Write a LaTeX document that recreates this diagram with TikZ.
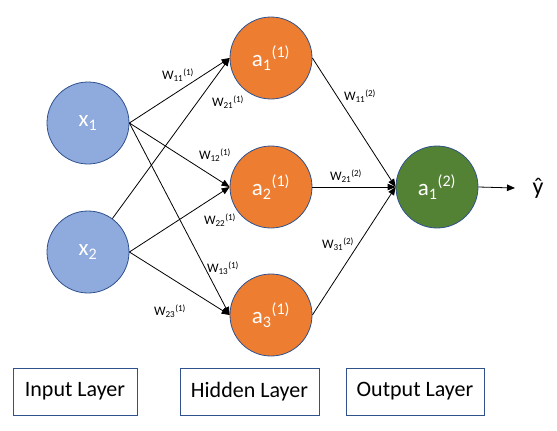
\documentclass[tikz,border=0pt]{standalone}
\usepackage{fontspec}
\setmainfont{Carlito}
\usetikzlibrary{arrows.meta}
\definecolor{inblue}{HTML}{8FAADC}
\definecolor{hidorange}{HTML}{ED7D31}
\definecolor{outgreen}{HTML}{548235}
\definecolor{edgeblue}{HTML}{2F528F}
\begin{document}
\begin{tikzpicture}[x=1pt,y=-1pt,
  neuron/.style={circle,draw=edgeblue,line width=0.8pt,minimum size=82pt,inner sep=0pt,text=white,font=\fontsize{23}{26}\selectfont},
  inneuron/.style={neuron,fill=inblue},
  hidneuron/.style={neuron,fill=hidorange},
  outneuron/.style={neuron,fill=outgreen},
  layerbox/.style={draw=edgeblue,line width=0.8pt,inner sep=0pt,font=\fontsize{22}{25}\selectfont},
  wlabel/.style={inner sep=0pt,font=\fontsize{13}{15}\selectfont},
  conn/.style={line width=0.8pt,-{Triangle[length=8pt,width=6.5pt]}},
  plain/.style={line width=0.8pt}]
\useasboundingbox (0,0) rectangle (557,431);
\node[inneuron] (x1) at (88,123) {x\textsubscript{1}};
\node[inneuron] (x2) at (88,252) {x\textsubscript{2}};
\node[hidneuron] (a1) at (271,58) {a\textsubscript{1}\textsuperscript{(1)}};
\node[hidneuron] (a2) at (271,187) {a\textsubscript{2}\textsuperscript{(1)}};
\node[hidneuron] (a3) at (271,315) {a\textsubscript{3}\textsuperscript{(1)}};
\node[outneuron] (o1) at (437,187) {a\textsubscript{1}\textsuperscript{(2)}};
\coordinate (yend) at (515,188);
\node[inner sep=0pt,font=\fontsize{24}{27}\selectfont] (yhat) at (538,188) {ŷ};

\draw[conn] (x1.east) -- (a1.west);
\draw[conn] (x1.east) -- (a2.west);
\draw[conn] (x1.east) -- (a3.west);
\draw[conn] (x2) -- (a1.west);
\draw[conn] (x2.east) -- (a2.west);
\draw[conn] (x2.east) -- (a3.west);
\draw[conn] (a1.east) -- (o1.west);
\draw[conn] (a2.east) -- (o1.west);
\draw[conn] (a3.east) -- (o1.west);
\draw[conn] (o1.east) -- (yend);

\node[wlabel] (w111) at (178,75) {W\textsubscript{11}\textsuperscript{(1)}};
\node[wlabel] (w121) at (228,102) {W\textsubscript{21}\textsuperscript{(1)}};
\node[wlabel] (w112) at (215,155) {W\textsubscript{12}\textsuperscript{(1)}};
\node[wlabel] (w122) at (220,220) {W\textsubscript{22}\textsuperscript{(1)}};
\node[wlabel] (w113) at (223,268) {W\textsubscript{13}\textsuperscript{(1)}};
\node[wlabel] (w123) at (170,311) {W\textsubscript{23}\textsuperscript{(1)}};
\node[wlabel] (w211) at (360,96) {W\textsubscript{11}\textsuperscript{(2)}};
\node[wlabel] (w221) at (346,176) {W\textsubscript{21}\textsuperscript{(2)}};
\node[wlabel] (w231) at (338,244) {W\textsubscript{31}\textsuperscript{(2)}};

\node[layerbox,minimum width=124pt,minimum height=47pt] (inbox) at (75,391.5) {Input Layer};
\node[layerbox,minimum width=139pt,minimum height=47pt] (hidbox) at (249.5,391.5) {Hidden Layer};
\node[layerbox,minimum width=138pt,minimum height=47pt] (outbox) at (415,391.5) {Output Layer};
\end{tikzpicture}
\end{document}
